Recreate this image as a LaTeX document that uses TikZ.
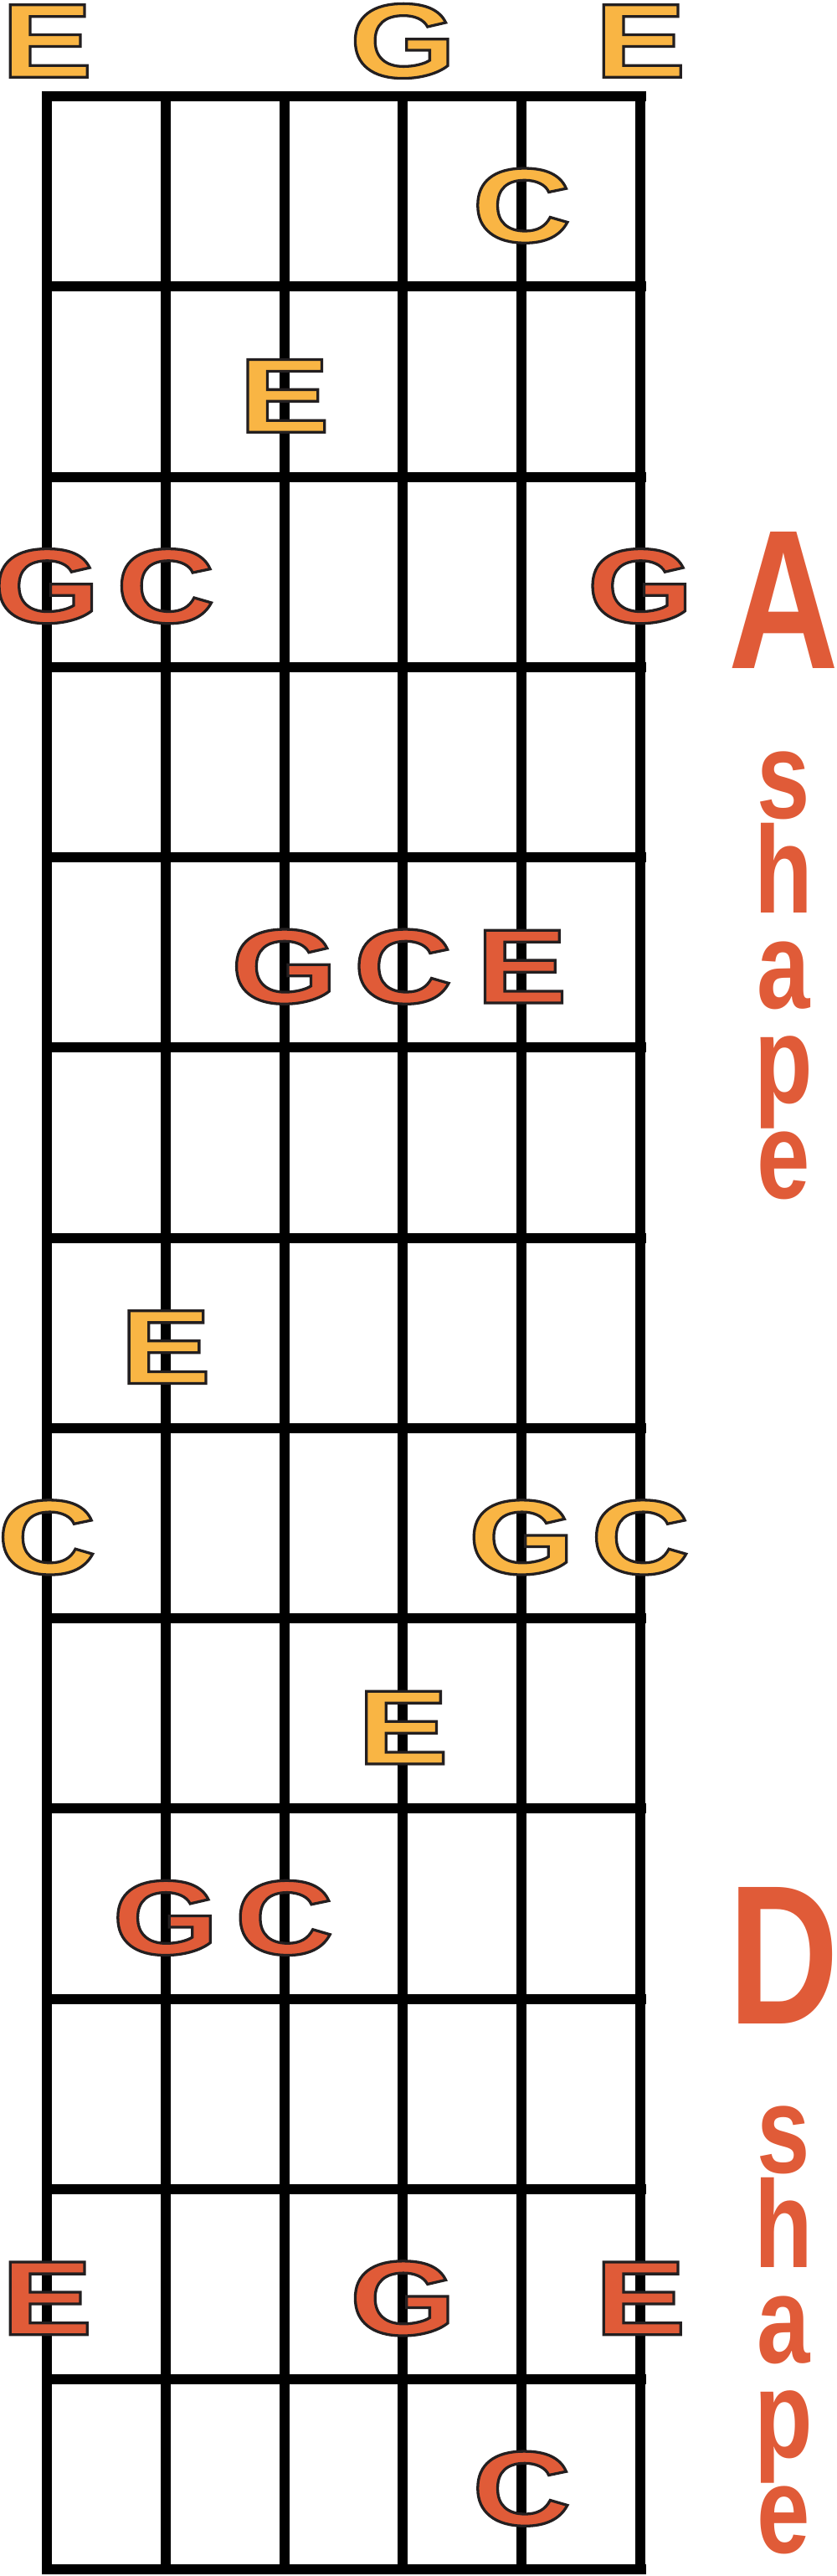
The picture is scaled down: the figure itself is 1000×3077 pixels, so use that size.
\documentclass[tikz,border=0pt]{standalone}
\usepackage{fontspec}
\usetikzlibrary{positioning}
\newfontfamily\notefont{Liberation Sans Bold}[FakeStretch=1.3, FakeBold=2.6]
\newfontfamily\shapefont{Liberation Sans Bold}[FakeStretch=0.77]
\definecolor{noteYellow}{HTML}{F9B544}
\definecolor{noteRed}{HTML}{E05B38}
% dark rim round the note letters (stroke colour only)
\newcommand{\rimstroke}{\special{pdf:literal direct 0.137 0.122 0.125 RG}}

\begin{document}
\begin{tikzpicture}[x=1pt, y=-1pt,
    wire/.style={line width=12pt},
    note/.style={font=\notefont\fontsize{126}{126}\selectfont, inner sep=0pt, anchor=center},
    shapehead/.style={font=\shapefont\fontsize{237}{237}\selectfont, text=noteRed, inner sep=0pt, anchor=base},
    shapeword/.style={font=\shapefont\fontsize{148}{113.5}\selectfont, text=noteRed, inner sep=0pt, align=center}]
    \useasboundingbox (0,0) rectangle (1000,3077);

    % strings
    \foreach \s in {0,...,5}
        \draw[wire] (56+141.8*\s, 109) -- (56+141.8*\s, 3075);
    % nut, frets and end
    \foreach \f in {0,...,13}
        \draw[wire] (50, 115+227.25*\f) -- (771.5, 115+227.25*\f);

    % open strings
    \node[note, text=noteYellow] (open1) at (56, 49) {\rimstroke E};
    \node[note, text=noteYellow] (open4) at (481.4, 49) {\rimstroke G};
    \node[note, text=noteYellow] (open6) at (765, 49) {\rimstroke E};

    % fretted notes: fret/string/letter/colour
    \foreach \k/\s/\n/\c in {1/5/C/noteYellow, 2/3/E/noteYellow,
            3/1/G/noteRed, 3/2/C/noteRed, 3/6/G/noteRed,
            5/3/G/noteRed, 5/4/C/noteRed, 5/5/E/noteRed,
            7/2/E/noteYellow, 8/1/C/noteYellow, 8/5/G/noteYellow, 8/6/C/noteYellow,
            9/4/E/noteYellow, 10/2/G/noteRed, 10/3/C/noteRed,
            12/1/E/noteRed, 12/4/G/noteRed, 12/6/E/noteRed, 13/5/C/noteRed}
        \node[note, text=\c] (n\k-\s) at (56+141.8*\s-141.8, 227.25*\k+18.4) {\rimstroke\n};

    % shape names
    \node[shapehead] (Ahead) at (936, 798) {A};
    \node[shapeword, below=99pt of Ahead] (Aword) {s\\h\\a\\p\\e};
    \node[shapehead] (Dhead) at (936, 2417) {D};
    \node[shapeword, below=98pt of Dhead] (Dword) {s\\h\\a\\p\\e};
\end{tikzpicture}
\end{document}
